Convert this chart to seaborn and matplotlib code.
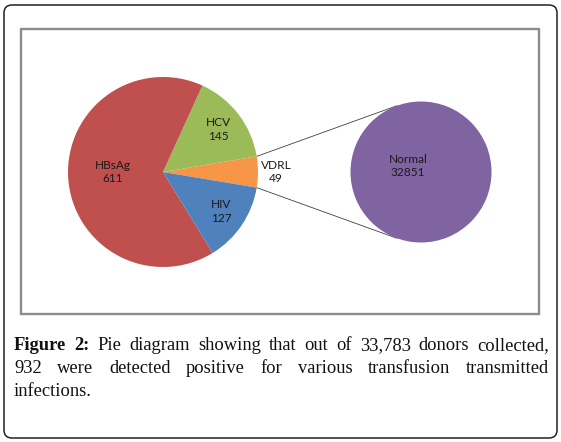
import numpy as np
import matplotlib
matplotlib.use("Agg")
import matplotlib.pyplot as plt
import seaborn as sns
from matplotlib.patches import Rectangle, FancyBboxPatch

# datos del grafico (orden antihorario empezando por VDRL a la derecha)
categorias = ['VDRL', 'HCV', 'HBsAg', 'HIV']
valores = [49, 145, 611, 127]
colores = ['#F79646', '#9BBB59', '#C0504D', '#4F81BD']

categoria_normal = 'Normal'
valor_normal = 32851
color_normal = '#8064A2'

leyenda = [
    [('Figure', True), ('2:', True), ('Pie', False), ('diagram', False), ('showing', False),
     ('that', False), ('out', False), ('of', False), ('33,783', False), ('donors', False),
     ('collected,', False)],
    [('932', False), ('were', False), ('detected', False), ('positive', False), ('for', False),
     ('various', False), ('transfusion', False), ('transmitted', False)],
    [('infections.', False)],
]

sns.set_style("white")
plt.rcParams['font.family'] = ['Lato', 'DejaVu Sans']

W, H = 561, 442
fig = plt.figure(figsize=(W / 100, H / 100), dpi=100)
ax = fig.add_axes([0, 0, 1, 1])

# pastel principal
centro = (163, H - 172)
radio = 95
inicio = -valores[0] / sum(valores) * 360 / 2
cunas, _ = ax.pie(valores, colors=colores, startangle=inicio, counterclock=True,
                  radius=radio, center=centro, wedgeprops=dict(linewidth=0))

# segundo circulo (Normal)
centro2 = (421, H - 172)
radio2 = 70.5
ax.pie([valor_normal], colors=[color_normal], radius=radio2, center=centro2,
       wedgeprops=dict(linewidth=0))

ax.set_xlim(0, W)
ax.set_ylim(0, H)
ax.set_aspect('equal')
ax.axis('off')

# etiquetas de las cunas
distancias = {'VDRL': 1.19, 'HCV': 0.73, 'HBsAg': 0.53, 'HIV': 0.74}
for cuna, cat, val in zip(cunas, categorias, valores):
    ang = np.deg2rad((cuna.theta1 + cuna.theta2) / 2)
    d = distancias[cat] * radio
    x = centro[0] + d * np.cos(ang)
    y = centro[1] + d * np.sin(ang)
    if cat == 'HBsAg':
        y = centro[1]
    ax.text(x, y, f'{cat}\n{val}', ha='center', va='center', fontsize=8.6,
            linespacing=1.3, color='#1a1a1a')

ax.text(centro2[0] - 13, centro2[1] + 6, f'{categoria_normal}\n{valor_normal}',
        ha='center', va='center', fontsize=8.6, linespacing=1.3, color='#1a1a1a')

# lineas de conexion
vdrl = cunas[0]
for th_p, th_n in [(vdrl.theta2, 110), (vdrl.theta1, -110)]:
    x1 = centro[0] + radio * np.cos(np.deg2rad(th_p))
    y1 = centro[1] + radio * np.sin(np.deg2rad(th_p))
    x2 = centro2[0] + radio2 * np.cos(np.deg2rad(th_n))
    y2 = centro2[1] + radio2 * np.sin(np.deg2rad(th_n))
    ax.plot([x1, x2], [y1, y2], color='#404040', lw=0.6, zorder=0)

# marcos
ax.add_patch(Rectangle((21, H - 314), 518, 285, fill=False, edgecolor='#8c8c8c',
                       linewidth=1.7, zorder=0))
ax.add_patch(FancyBboxPatch((4, H - 438), 553, 433,
                            boxstyle='round,pad=0,rounding_size=8',
                            fill=False, edgecolor='#222222', linewidth=1.1))

# leyenda justificada
fig.canvas.draw()
renderer = fig.canvas.get_renderer()
x0, x1 = 14, 549
tam = 13.3
bases = [350, 373, 396]
for i, (linea, base) in enumerate(zip(leyenda, bases)):
    textos = []
    for palabra, negrita in linea:
        t = ax.text(0, H - base, palabra, fontsize=tam, family='Liberation Serif',
                    weight='bold' if negrita else 'normal', va='baseline', ha='left',
                    color='#111111')
        textos.append(t)
    anchos = [t.get_window_extent(renderer).width for t in textos]
    if i < len(leyenda) - 1:
        hueco = (x1 - x0 - sum(anchos)) / (len(textos) - 1)
    else:
        hueco = tam * 100 / 72 * 0.25
    x = x0
    for t, a in zip(textos, anchos):
        t.set_x(x)
        x += a + hueco

fig.savefig('out.png', dpi=100)
